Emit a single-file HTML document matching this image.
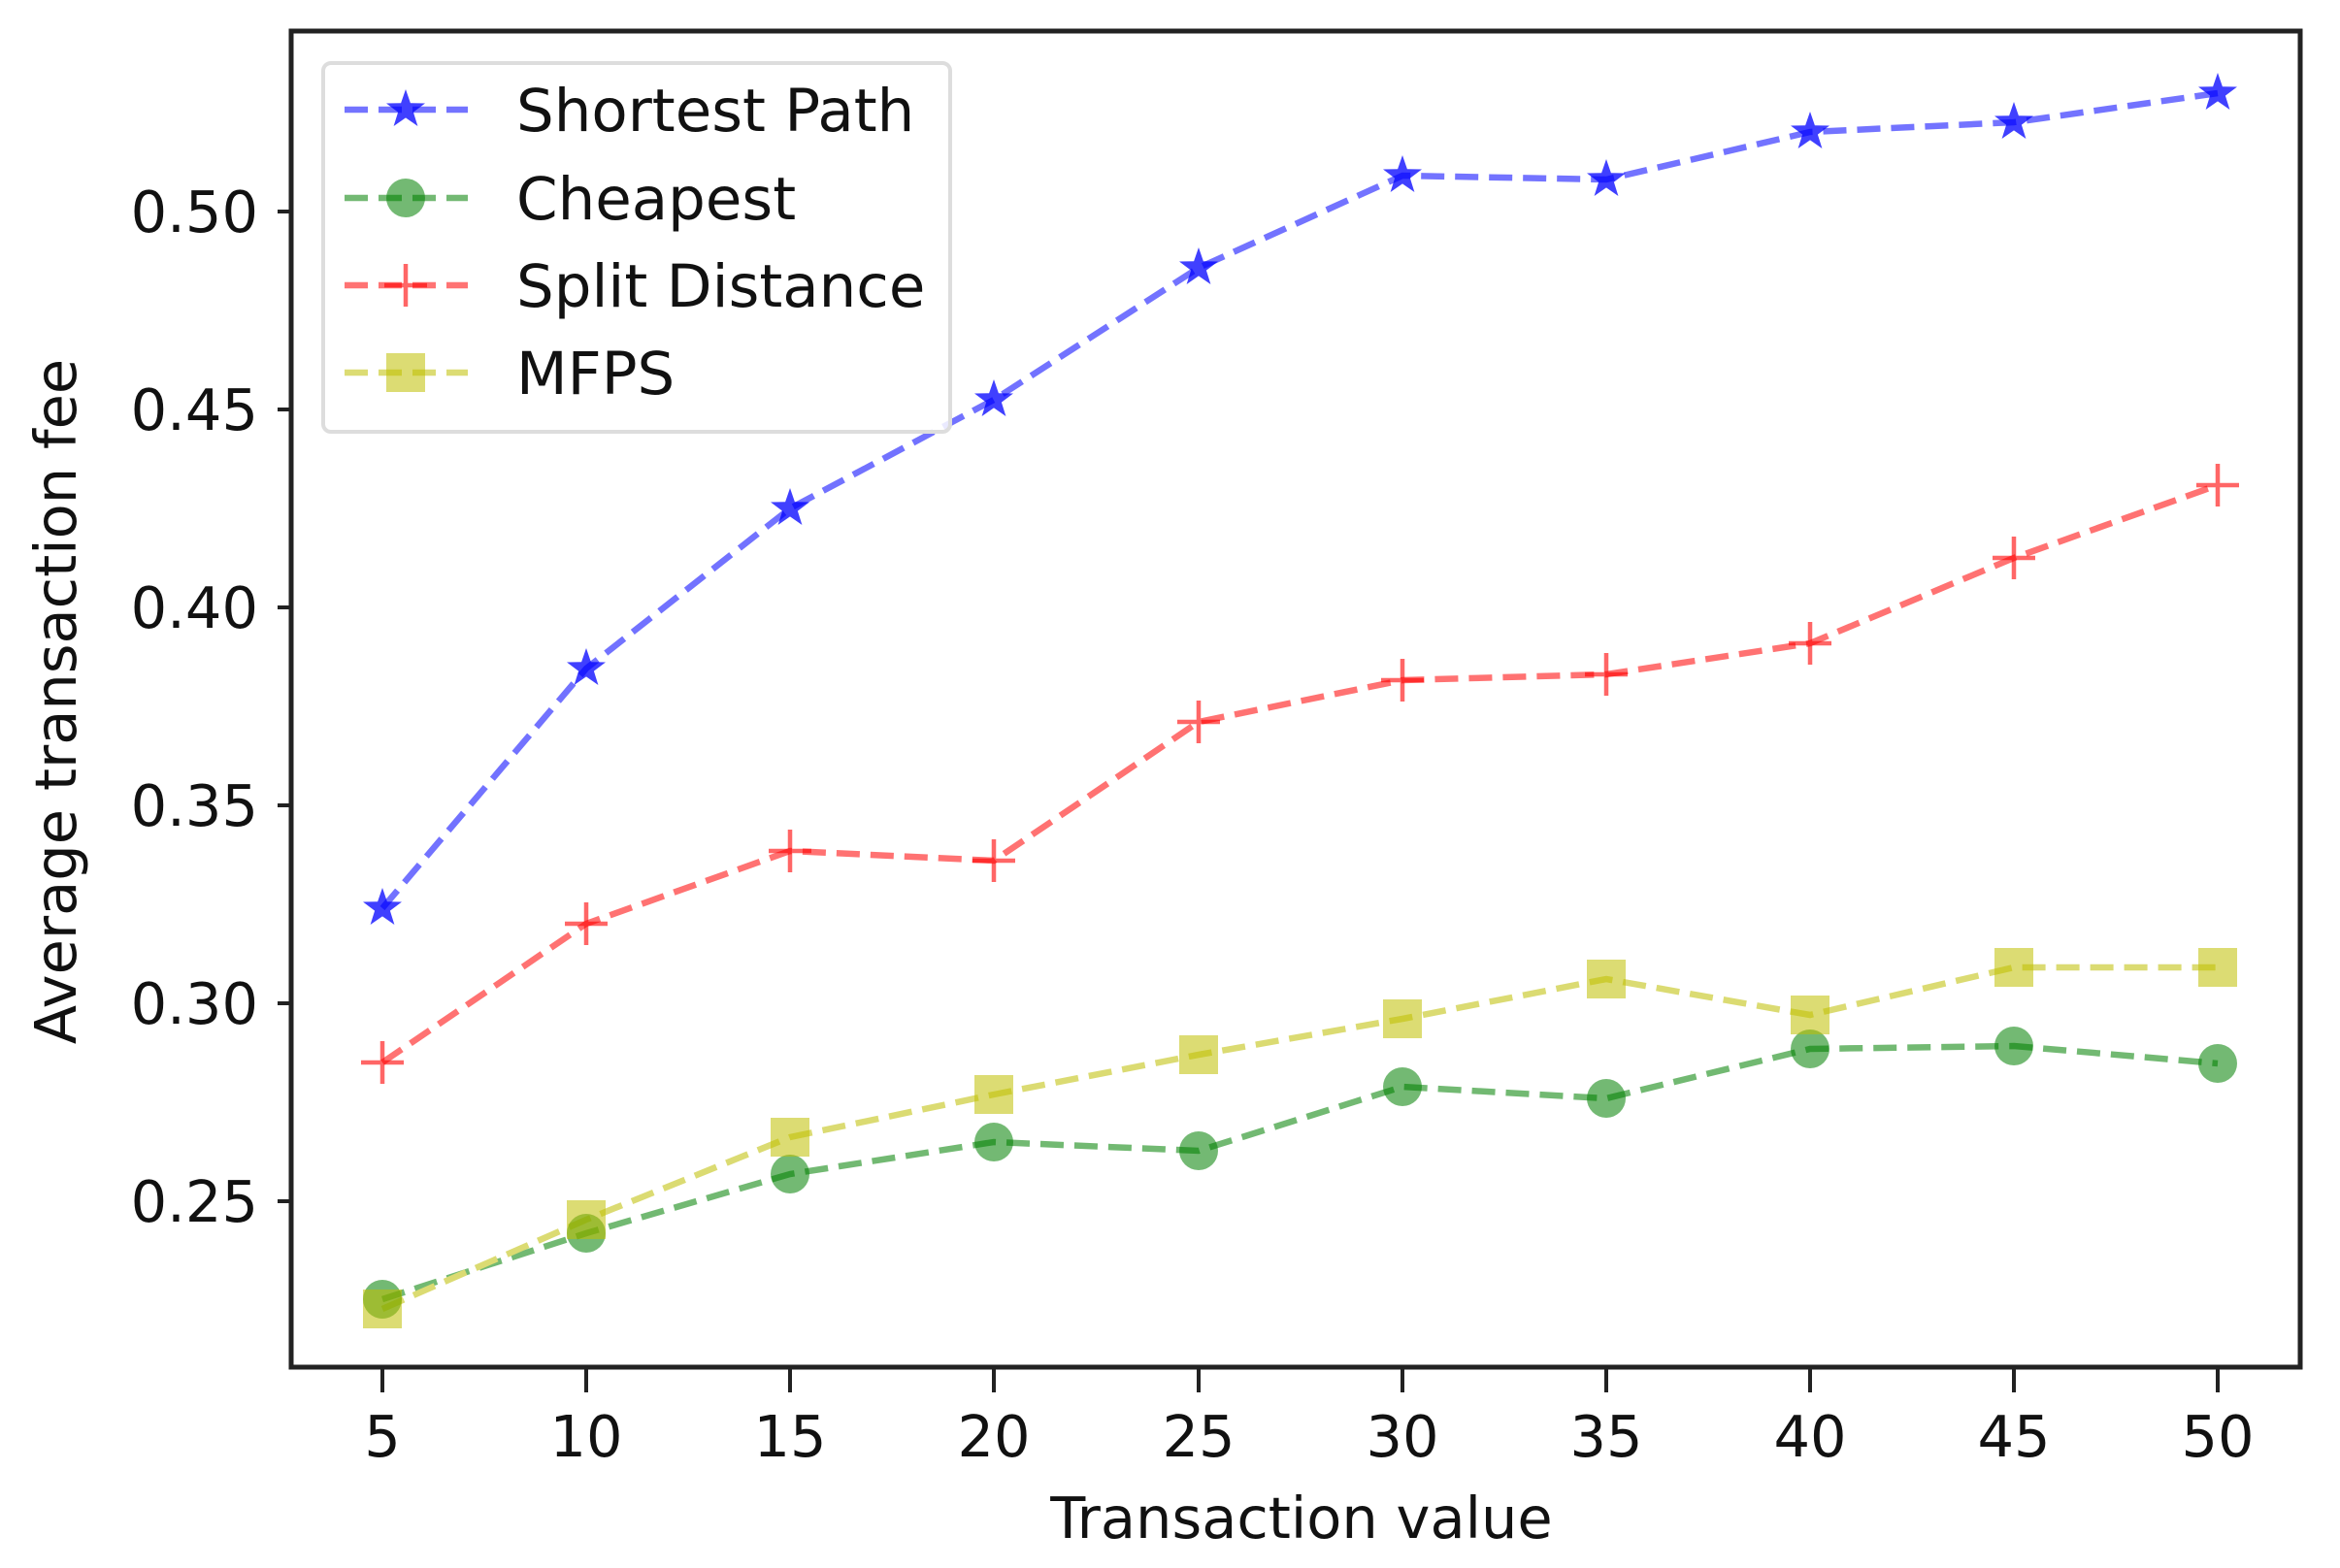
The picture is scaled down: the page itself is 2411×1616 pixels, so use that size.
<!DOCTYPE html>
<html><head><meta charset="utf-8"><style>
html,body{margin:0;padding:0;background:#fff}
svg{display:block}
text{font-family:"DejaVu Sans","Liberation Sans",sans-serif;fill:#111}
</style></head><body>
<svg width="2411" height="1616" viewBox="0 0 2411 1616" xmlns="http://www.w3.org/2000/svg">
<rect width="2411" height="1616" fill="#fff"/>
<g stroke="#222" stroke-width="4">
<line x1="286" y1="1238" x2="300" y2="1238"/><line x1="286" y1="1034" x2="300" y2="1034"/><line x1="286" y1="830" x2="300" y2="830"/><line x1="286" y1="626" x2="300" y2="626"/><line x1="286" y1="422" x2="300" y2="422"/><line x1="286" y1="218" x2="300" y2="218"/>
<line x1="394" y1="1409" x2="394" y2="1435"/><line x1="604" y1="1409" x2="604" y2="1435"/><line x1="814" y1="1409" x2="814" y2="1435"/><line x1="1024" y1="1409" x2="1024" y2="1435"/><line x1="1235" y1="1409" x2="1235" y2="1435"/><line x1="1445" y1="1409" x2="1445" y2="1435"/><line x1="1655" y1="1409" x2="1655" y2="1435"/><line x1="1865" y1="1409" x2="1865" y2="1435"/><line x1="2075" y1="1409" x2="2075" y2="1435"/><line x1="2285" y1="1409" x2="2285" y2="1435"/>
</g>
<g font-size="59" text-anchor="end">
<text x="266" y="1259">0.25</text><text x="266" y="1055">0.30</text><text x="266" y="851">0.35</text><text x="266" y="647">0.40</text><text x="266" y="443">0.45</text><text x="266" y="239">0.50</text>
</g>
<g font-size="59" text-anchor="middle">
<text x="394" y="1501">5</text><text x="604" y="1501">10</text><text x="814" y="1501">15</text><text x="1024" y="1501">20</text><text x="1235" y="1501">25</text><text x="1445" y="1501">30</text><text x="1655" y="1501">35</text><text x="1865" y="1501">40</text><text x="2075" y="1501">45</text><text x="2285" y="1501">50</text>
<text x="1341" y="1585" font-size="59">Transaction value</text>
<text transform="translate(78,723) rotate(-90)" font-size="59">Average transaction fee</text>
</g>
<g fill="none" stroke-width="6.5" stroke-dasharray="24,11" opacity="0.55">
<polyline stroke="#0000ff" points="394,936 604,689 814,524 1024,412 1235,276 1445,181 1655,185 1865,136 2075,126 2285,96"/>
<polyline stroke="#ff0000" points="394,1095 604,952 814,877 1024,887 1235,744 1445,701 1655,695 1865,663 2075,575 2285,500"/>
<polyline stroke="#008000" points="394,1339 604,1271 814,1210 1024,1177 1235,1186 1445,1120 1655,1132 1865,1081 2075,1078 2285,1096"/>
<polyline stroke="#bfbf00" points="394,1349 604,1257 814,1172 1024,1128 1235,1087 1445,1050 1655,1009 1865,1046 2075,997 2285,997"/>
</g>
<defs>
<polygon id="star" points="0,-21 4.9,-6.8 20,-6.5 7.9,2.6 12.4,17 0,8.4 -12.4,17 -7.9,2.6 -20,-6.5 -4.9,-6.8"/>
</defs>
<g fill="#0000ff" opacity="0.75">
<use href="#star" x="394" y="936"/><use href="#star" x="604" y="689"/><use href="#star" x="814" y="524"/><use href="#star" x="1024" y="412"/><use href="#star" x="1235" y="276"/><use href="#star" x="1445" y="181"/><use href="#star" x="1655" y="185"/><use href="#star" x="1865" y="136"/><use href="#star" x="2075" y="126"/><use href="#star" x="2285" y="96"/>
</g>
<g stroke="#ff0000" stroke-width="4.5" opacity="0.6">
<path d="M372 1095h44M394 1073v44 M582 952h44M604 930v44 M792 877h44M814 855v44 M1002 887h44M1024 865v44 M1213 744h44M1235 722v44 M1423 701h44M1445 679v44 M1633 695h44M1655 673v44 M1843 663h44M1865 641v44 M2053 575h44M2075 553v44 M2263 500h44M2285 478v44"/>
</g>
<g fill="#008000" opacity="0.55">
<circle cx="394" cy="1339" r="20"/><circle cx="604" cy="1271" r="20"/><circle cx="814" cy="1210" r="20"/><circle cx="1024" cy="1177" r="20"/><circle cx="1235" cy="1186" r="20"/><circle cx="1445" cy="1120" r="20"/><circle cx="1655" cy="1132" r="20"/><circle cx="1865" cy="1081" r="20"/><circle cx="2075" cy="1078" r="20"/><circle cx="2285" cy="1096" r="20"/>
</g>
<g fill="#bfbf00" opacity="0.55">
<rect x="374" y="1329" width="40" height="40"/><rect x="584" y="1237" width="40" height="40"/><rect x="794" y="1152" width="40" height="40"/><rect x="1004" y="1108" width="40" height="40"/><rect x="1215" y="1067" width="40" height="40"/><rect x="1425" y="1030" width="40" height="40"/><rect x="1635" y="989" width="40" height="40"/><rect x="1845" y="1026" width="40" height="40"/><rect x="2055" y="977" width="40" height="40"/><rect x="2265" y="977" width="40" height="40"/>
</g>
<rect x="333" y="65" width="646" height="380" rx="8" fill="#fff" fill-opacity="0.85" stroke="#ddd" stroke-width="4"/>
<g stroke-width="6.5" stroke-dasharray="24,11" opacity="0.55">
<line x1="355" y1="113" x2="482" y2="113" stroke="#0000ff"/>
<line x1="355" y1="204" x2="482" y2="204" stroke="#008000"/>
<line x1="355" y1="294" x2="482" y2="294" stroke="#ff0000"/>
<line x1="355" y1="384" x2="482" y2="384" stroke="#bfbf00"/>
</g>
<use href="#star" x="418" y="113" fill="#0000ff" opacity="0.75"/>
<circle cx="418" cy="204" r="20" fill="#008000" opacity="0.55"/>
<path d="M396 294h44M418 272v44" stroke="#ff0000" stroke-width="4.5" opacity="0.6"/>
<rect x="398" y="364" width="40" height="40" fill="#bfbf00" opacity="0.55"/>
<g font-size="61">
<text x="532" y="135">Shortest Path</text>
<text x="532" y="226">Cheapest</text>
<text x="532" y="316">Split Distance</text>
<text x="532" y="406">MFPS</text>
</g>
<rect x="300" y="32" width="2070" height="1377" fill="none" stroke="#222" stroke-width="5"/>
</svg>
</body></html>
